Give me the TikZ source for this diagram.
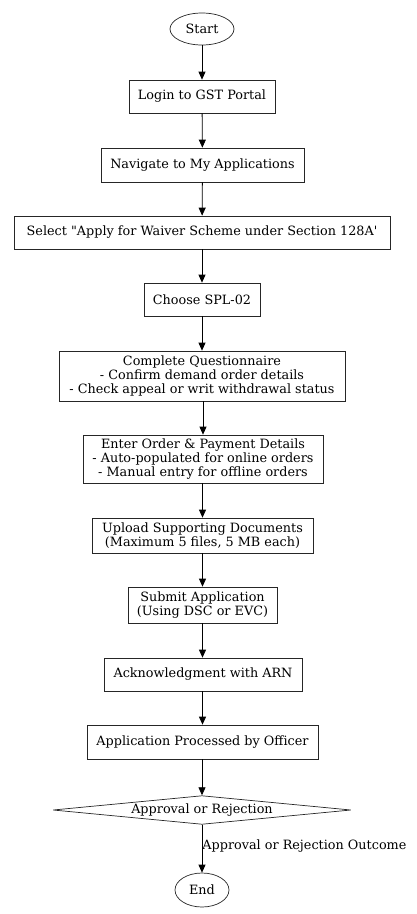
\documentclass[tikz,border=0pt]{standalone}
\usepackage{fontspec}
\setmainfont{DejaVu Serif}
\usetikzlibrary{shapes.geometric,arrows.meta}
\begin{document}
\begin{tikzpicture}[x=1pt,y=-1pt,
  every node/.style={font=\fontsize{12.8}{14}\selectfont, align=center, inner sep=0pt},
  stepbox/.style={draw=black!85, line width=0.7pt, rectangle},
  term/.style={draw=black!85, line width=0.7pt, ellipse},
  decide/.style={draw=black!85, line width=0.7pt, diamond, aspect=8.76},
  flow/.style={draw=black, line width=0.8pt, -{Triangle[length=8pt,width=7pt]}}]
\useasboundingbox (0,0) rectangle (416,914);
\node[term, minimum width=64pt, minimum height=32pt] (start) at (202,29) {Start};
\node[stepbox, minimum width=146pt, minimum height=33pt] (login) at (202,96.5) {Login to GST Portal};
\node[stepbox, minimum width=203pt, minimum height=34pt] (nav) at (202.5,165) {Navigate to My Applications};
\node[stepbox, minimum width=376pt, minimum height=33pt] (sel) at (202,232.5) {Select \textquotedbl Apply for Waiver Scheme under Section 128A\textquotesingle};
\node[stepbox, minimum width=116pt, minimum height=33pt] (choose) at (202,299.5) {Choose SPL-02};
\node[stepbox, minimum width=286pt, minimum height=50pt] (comp) at (202,376) {Complete Questionnaire\\- Confirm demand order details\\- Check appeal or writ withdrawal status};
\node[stepbox, minimum width=240pt, minimum height=48pt] (enter) at (203,459) {Enter Order \& Payment Details\\- Auto-populated for online orders\\- Manual entry for offline orders};
\node[stepbox, minimum width=221pt, minimum height=35pt] (upload) at (202.5,535.5) {Upload Supporting Documents\\(Maximum 5 files, 5 MB each)};
\node[stepbox, minimum width=149pt, minimum height=36pt] (submit) at (202.5,605) {Submit Application\\(Using DSC or EVC)};
\node[stepbox, minimum width=198pt, minimum height=33pt] (ack) at (203,674.5) {Acknowledgment with ARN};
\node[stepbox, minimum width=231pt, minimum height=34pt] (proc) at (202.5,742) {Application Processed by Officer};
\node[decide, minimum width=298pt] (dec) at (202,810) {Approval or Rejection};
\node[term, minimum width=54pt, minimum height=34pt] (end) at (202,890) {End};
\draw[flow] (start) -- (login);
\draw[flow] (login) -- (nav);
\draw[flow] (nav) -- (sel);
\draw[flow] (sel) -- (choose);
\draw[flow] (choose) -- (comp);
\draw[flow] (comp.south -| enter.north) -- (enter);
\draw[flow] (enter.south -| upload.north) -- (upload);
\draw[flow] (upload) -- (submit);
\draw[flow] (submit) -- (ack.north -| submit.south);
\draw[flow] (ack.south -| proc.north) -- (proc);
\draw[flow] (proc.south -| dec.north) -- (dec);
\draw[flow] (dec) -- node[anchor=west, pos=0.45] {Approval or Rejection Outcome} (end);
\end{tikzpicture}
\end{document}
